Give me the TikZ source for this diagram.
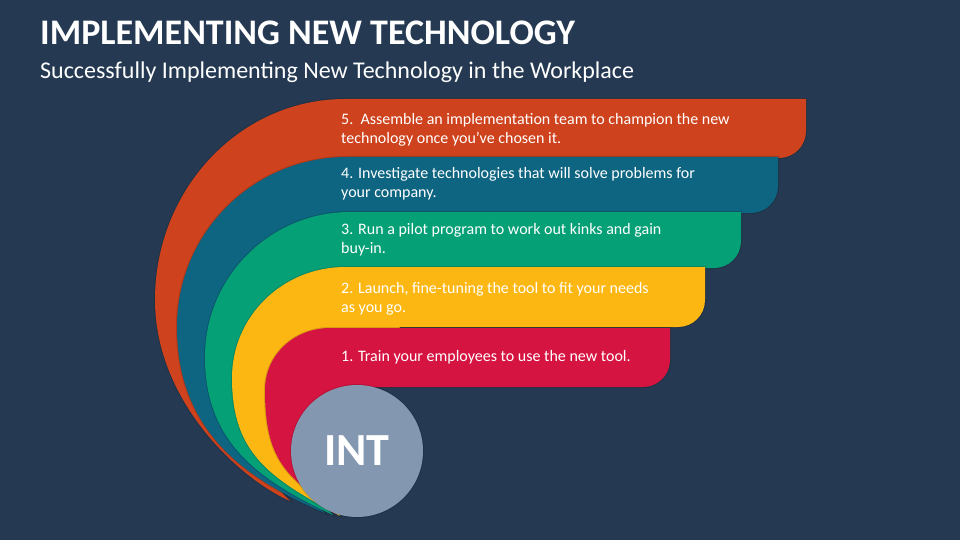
\documentclass[tikz,border=0pt]{standalone}
\usepackage{fontspec}
\setmainfont{Carlito}
\usetikzlibrary{positioning}

\definecolor{bgnavy}{HTML}{253A52}
\definecolor{bandorange}{HTML}{CE421D}
\definecolor{bandblue}{HTML}{0E6581}
\definecolor{bandgreen}{HTML}{06A077}
\definecolor{bandyellow}{HTML}{FDB713}
\definecolor{bandred}{HTML}{D61442}
\definecolor{hubgrey}{HTML}{8397B0}

\begin{document}
\begin{tikzpicture}[x=1pt,y=-1pt,
  		heading/.style={anchor=base west,inner sep=0,text=white},
  		band/.style={fill=#1,preaction={draw=black,draw opacity=0.14,line width=2pt}},
  		bandtext/.style={anchor=west,align=left,inner sep=0,text=white,font=\fontsize{16}{19}\selectfont},
  		hub/.style={circle,fill=hubgrey,minimum size=132pt,inner sep=0,text=white,font=\fontsize{46}{46}\selectfont\bfseries,
  			preaction={draw=black,draw opacity=0.14,line width=2pt}}]
    		% Background
      		\fill[bgnavy] (0,0) rectangle (960,540);
      		\useasboundingbox (0,0) rectangle (960,540);
    		% Titles
      		\node[heading,font=\fontsize{36}{40}\selectfont\bfseries] (title) at (40,45) {IMPLEMENTING NEW TECHNOLOGY};
      		\node[heading,font=\fontsize{24}{28}\selectfont] (subtitle) at (40,79) {Successfully Implementing New Technology in the Workplace};
    		% Bands, back to front
      		\path[band=bandorange] (290,501) .. controls (238,478) and (155,400) .. (155,300) .. controls (155,189) and (240,99) .. (345,99)
      			-- (806,99) -- (806,131) .. controls (806,146) and (794,158) .. (779,158) -- (400,158) -- (357,400) -- (262,472) -- cycle;
      		\path[band=bandblue] (325,513) .. controls (242,478) and (177,429) .. (177,327) .. controls (177,233) and (253,157) .. (347,157)
      			-- (778,157) -- (778,186) .. controls (778,201) and (766,213) .. (751,213) -- (400,213) -- (357,400) -- (290,480) -- cycle;
      		\path[band=bandgreen] (333,515) .. controls (261,481) and (205,444) .. (205,357) .. controls (205,277) and (270,212) .. (350,212)
      			-- (741,212) -- (741,241) .. controls (741,256) and (729,268) .. (714,268) -- (400,268) -- (357,400) -- (310,490) -- cycle;
      		\path[band=bandyellow] (340,516) .. controls (270,478) and (232,454) .. (232,378) .. controls (232,316) and (283,267) .. (345,267)
      			-- (705,267) -- (705,300) .. controls (705,315) and (693,327) .. (678,327) -- (400,327) -- (357,400) -- (325,495) -- cycle;
      		\path[band=bandred] (345,516) .. controls (285,479) and (265,459) .. (265,390) .. controls (265,355) and (294,328) .. (330,328)
      			-- (670,328) -- (670,360) .. controls (670,375) and (658,387) .. (643,387) -- (357,387) -- (357,505) -- cycle;
    		% Hub
      		\node[hub] (int) at (357,451) {INT};
    		% Steps
      		\node[bandtext] (assemble) at (341,130) {5.\ \ Assemble an implementation team to champion the new\\technology once you've chosen it.};
      		\node[bandtext] (investigate) at (341,184) {4. Investigate technologies that will solve problems for\\your company.};
      		\node[bandtext] (pilot) at (341,239.6) {3. Run a pilot program to work out kinks and gain\\buy-in.};
      		\node[bandtext] (launch) at (341,298.6) {2. Launch, fine-tuning the tool to fit your needs\\as you go.};
      		\node[bandtext,anchor=base west] (train) at (341,361.7) {1. Train your employees to use the new tool.};
	\end{tikzpicture}
\end{document}
